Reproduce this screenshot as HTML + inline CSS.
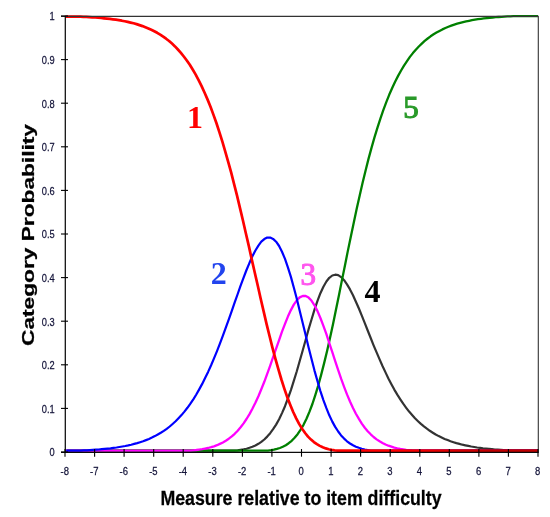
<!DOCTYPE html>
<html><head><meta charset="utf-8"><title>Category Probability</title>
<style>
html,body{margin:0;padding:0;background:#fff;}
svg{display:block;}
.tk{font-family:"Liberation Sans",sans-serif;font-size:11.3px;fill:#14143a;stroke:#14143a;stroke-width:0.25px;}
.lab{font-family:"Liberation Serif",serif;font-weight:bold;font-size:32px;}
.ttl{font-family:"Liberation Sans",sans-serif;font-weight:bold;fill:#000;stroke:#000;stroke-width:0.25px;}
</style></head><body>
<svg width="550" height="517" viewBox="0 0 550 517">
<rect width="550" height="517" fill="#fff"/>
<g fill="none" stroke-width="2.4" stroke-linejoin="round" stroke-linecap="butt">
<path d="M66.2,450.6 L69.2,450.6 L72.1,450.6 L75.1,450.6 L78.0,450.6 L81.0,450.6 L83.9,450.6 L86.9,450.6 L89.8,450.6 L92.8,450.6 L95.8,450.6 L98.7,450.6 L101.7,450.6 L104.6,450.6 L107.6,450.6 L110.5,450.6 L113.5,450.6 L116.5,450.6 L119.4,450.6 L122.4,450.6 L125.3,450.6 L128.3,450.6 L131.2,450.6 L134.2,450.6 L137.2,450.6 L140.1,450.6 L143.1,450.6 L146.0,450.6 L149.0,450.6 L151.9,450.6 L154.9,450.6 L157.8,450.6 L160.8,450.6 L163.8,450.6 L166.7,450.6 L169.7,450.6 L172.6,450.6 L175.6,450.6 L178.5,450.6 L181.5,450.6 L184.4,450.6 L187.4,450.6 L190.4,450.6 L193.3,450.6 L196.3,450.6 L199.2,450.6 L202.2,450.6 L205.1,450.6 L208.1,450.6 L211.1,450.6 L214.0,450.6 L217.0,450.6 L219.9,450.6 L222.9,450.6 L225.8,450.6 L228.8,450.6 L231.8,450.6 L234.7,450.6 L237.7,450.4 L240.6,449.9 L243.6,449.4 L246.5,448.7 L249.5,447.8 L252.4,446.8 L255.4,445.5 L258.4,443.8 L261.3,441.9 L264.3,439.5 L267.2,436.6 L270.2,433.2 L273.1,429.2 L276.1,424.6 L279.1,419.2 L282.0,413.1 L285.0,406.2 L287.9,398.5 L290.9,390.1 L293.8,380.9 L296.8,371.2 L299.7,361.0 L302.7,350.5 L305.7,339.8 L308.6,329.3 L311.6,319.2 L314.5,309.6 L317.5,300.9 L320.4,293.2 L323.4,286.7 L326.4,281.5 L329.3,277.8 L332.3,275.5 L335.2,274.7 L338.2,275.2 L341.1,277.1 L344.1,280.2 L347.0,284.4 L350.0,289.4 L353.0,295.2 L355.9,301.7 L358.9,308.5 L361.8,315.7 L364.8,323.1 L367.7,330.5 L370.7,338.0 L373.6,345.3 L376.6,352.4 L379.6,359.4 L382.5,366.0 L385.5,372.4 L388.4,378.4 L391.4,384.2 L394.3,389.6 L397.3,394.6 L400.3,399.3 L403.2,403.7 L406.2,407.8 L409.1,411.6 L412.1,415.0 L415.0,418.3 L418.0,421.2 L420.9,423.9 L423.9,426.4 L426.9,428.7 L429.8,430.8 L432.8,432.7 L435.7,434.5 L438.7,436.1 L441.6,437.5 L444.6,438.9 L447.6,440.1 L450.5,441.2 L453.5,442.2 L456.4,443.1 L459.4,443.9 L462.3,444.7 L465.3,445.3 L468.3,445.9 L471.2,446.5 L474.2,447.0 L477.1,447.5 L480.1,447.9 L483.0,448.3 L486.0,448.6 L488.9,448.9 L491.9,449.2 L494.9,449.5 L497.8,449.7 L500.8,449.9 L503.7,450.1 L506.7,450.3 L509.6,450.4 L512.6,450.6 L515.6,450.6 L518.5,450.6 L521.5,450.6 L524.4,450.6 L527.4,450.6 L530.3,450.6 L533.3,450.6 L536.2,450.6 L538.0,450.6" stroke="#333333" stroke-width="2.2"/>
<path d="M67.0,450.6 L70.0,450.6 L72.9,450.6 L75.9,450.6 L78.8,450.6 L81.8,450.6 L84.7,450.6 L87.7,450.6 L90.6,450.6 L93.6,450.6 L96.6,450.6 L99.5,450.6 L102.5,450.6 L105.4,450.6 L108.4,450.6 L111.3,450.6 L114.3,450.6 L117.3,450.6 L120.2,450.6 L123.2,450.6 L126.1,450.6 L129.1,450.6 L132.0,450.6 L135.0,450.6 L138.0,450.6 L140.9,450.6 L143.9,450.6 L146.8,450.6 L149.8,450.6 L152.7,450.6 L155.7,450.6 L158.6,450.6 L161.6,450.6 L164.6,450.6 L167.5,450.6 L170.5,450.6 L173.4,450.6 L176.4,450.6 L179.3,450.6 L182.3,450.6 L185.2,450.6 L188.2,450.6 L191.2,450.6 L194.1,450.6 L197.1,450.6 L200.0,450.6 L203.0,450.6 L205.9,450.6 L208.9,450.6 L211.9,450.6 L214.8,450.6 L217.8,450.6 L220.7,450.6 L223.7,450.6 L226.6,450.6 L229.6,450.6 L232.6,450.6 L235.5,450.6 L238.5,450.6 L241.4,450.6 L244.4,450.6 L247.3,450.6 L250.3,450.6 L253.2,450.6 L256.2,450.6 L259.2,450.6 L262.1,450.6 L265.1,450.6 L268.0,450.6 L271.0,450.2 L273.9,449.7 L276.9,448.9 L279.9,448.0 L282.8,446.8 L285.8,445.2 L288.7,443.2 L291.7,440.8 L294.6,437.8 L297.6,434.2 L300.5,429.9 L303.5,424.8 L306.5,418.8 L309.4,411.9 L312.4,404.0 L315.3,395.1 L318.3,385.3 L321.2,374.6 L324.2,362.9 L327.2,350.5 L330.1,337.4 L333.1,323.7 L336.0,309.5 L339.0,295.0 L341.9,280.4 L344.9,265.7 L347.8,251.1 L350.8,236.7 L353.8,222.6 L356.7,208.8 L359.7,195.5 L362.6,182.8 L365.6,170.6 L368.5,158.9 L371.5,147.9 L374.4,137.6 L377.4,127.8 L380.4,118.7 L383.3,110.2 L386.3,102.2 L389.2,94.8 L392.2,88.0 L395.1,81.7 L398.1,75.9 L401.1,70.5 L404.0,65.6 L407.0,61.1 L409.9,56.9 L412.9,53.1 L415.8,49.7 L418.8,46.5 L421.8,43.6 L424.7,40.9 L427.7,38.5 L430.6,36.3 L433.6,34.3 L436.5,32.5 L439.5,30.9 L442.4,29.4 L445.4,28.0 L448.4,26.8 L451.3,25.7 L454.3,24.6 L457.2,23.7 L460.2,22.9 L463.1,22.1 L466.1,21.4 L469.1,20.8 L472.0,20.2 L475.0,19.7 L477.9,19.2 L480.9,18.8 L483.8,18.4 L486.8,18.1 L489.7,17.8 L492.7,17.5 L495.7,17.2 L498.6,17.0 L501.6,16.8 L504.5,16.6 L507.5,16.4 L510.4,16.3 L513.4,16.1 L516.4,16.1 L519.3,16.1 L522.3,16.1 L525.2,16.1 L528.2,16.1 L531.1,16.1 L534.1,16.1 L537.0,16.1 L538.0,16.1" stroke="#008000" stroke-width="2.3"/>
<path d="M66.2,450.6 L69.2,450.6 L72.1,450.6 L75.1,450.6 L78.0,450.6 L81.0,450.6 L83.9,450.6 L86.9,450.6 L89.8,450.6 L92.8,450.6 L95.8,450.6 L98.7,450.6 L101.7,450.6 L104.6,450.6 L107.6,450.6 L110.5,450.6 L113.5,450.6 L116.5,450.6 L119.4,450.6 L122.4,450.6 L125.3,450.6 L128.3,450.6 L131.2,450.6 L134.2,450.6 L137.2,450.6 L140.1,450.6 L143.1,450.6 L146.0,450.6 L149.0,450.6 L151.9,450.6 L154.9,450.6 L157.8,450.6 L160.8,450.6 L163.8,450.6 L166.7,450.6 L169.7,450.6 L172.6,450.6 L175.6,450.6 L178.5,450.6 L181.5,450.6 L184.4,450.6 L187.4,450.6 L190.4,450.6 L193.3,450.3 L196.3,450.0 L199.2,449.6 L202.2,449.2 L205.1,448.6 L208.1,448.0 L211.1,447.2 L214.0,446.3 L217.0,445.2 L219.9,443.9 L222.9,442.5 L225.8,440.7 L228.8,438.7 L231.8,436.4 L234.7,433.8 L237.7,430.8 L240.6,427.3 L243.6,423.4 L246.5,419.0 L249.5,414.1 L252.4,408.7 L255.4,402.7 L258.4,396.2 L261.3,389.2 L264.3,381.8 L267.2,373.9 L270.2,365.6 L273.1,357.2 L276.1,348.6 L279.1,340.1 L282.0,331.7 L285.0,323.8 L287.9,316.6 L290.9,310.1 L293.8,304.6 L296.8,300.3 L299.7,297.4 L302.7,296.0 L305.7,296.0 L308.6,297.6 L311.6,300.8 L314.5,305.3 L317.5,311.1 L320.4,318.0 L323.4,325.8 L326.4,334.2 L329.3,343.1 L332.3,352.1 L335.2,361.2 L338.2,370.1 L341.1,378.7 L344.1,386.8 L347.0,394.4 L350.0,401.5 L353.0,407.9 L355.9,413.7 L358.9,418.9 L361.8,423.6 L364.8,427.7 L367.7,431.2 L370.7,434.3 L373.6,437.0 L376.6,439.4 L379.6,441.3 L382.5,443.0 L385.5,444.5 L388.4,445.7 L391.4,446.7 L394.3,447.6 L397.3,448.3 L400.3,448.9 L403.2,449.4 L406.2,449.9 L409.1,450.2 L412.1,450.5 L415.0,450.6 L418.0,450.6 L420.9,450.6 L423.9,450.6 L426.9,450.6 L429.8,450.6 L432.8,450.6 L435.7,450.6 L438.7,450.6 L441.6,450.6 L444.6,450.6 L447.6,450.6 L450.5,450.6 L453.5,450.6 L456.4,450.6 L459.4,450.6 L462.3,450.6 L465.3,450.6 L468.3,450.6 L471.2,450.6 L474.2,450.6 L477.1,450.6 L480.1,450.6 L483.0,450.6 L486.0,450.6 L488.9,450.6 L491.9,450.6 L494.9,450.6 L497.8,450.6 L500.8,450.6 L503.7,450.6 L506.7,450.6 L509.6,450.6 L512.6,450.6 L515.6,450.6 L518.5,450.6 L521.5,450.6 L524.4,450.6 L527.4,450.6 L530.3,450.6 L533.3,450.6 L536.2,450.6 L538.0,450.6" stroke="#ff00ff" stroke-width="2.3"/>
<path d="M66.2,450.6 L69.2,450.6 L72.1,450.6 L75.1,450.6 L78.0,450.6 L81.0,450.6 L83.9,450.4 L86.9,450.3 L89.8,450.1 L92.8,449.9 L95.8,449.7 L98.7,449.5 L101.7,449.2 L104.6,448.9 L107.6,448.6 L110.5,448.3 L113.5,447.9 L116.5,447.5 L119.4,447.0 L122.4,446.5 L125.3,446.0 L128.3,445.4 L131.2,444.7 L134.2,443.9 L137.2,443.1 L140.1,442.2 L143.1,441.2 L146.0,440.1 L149.0,438.9 L151.9,437.6 L154.9,436.1 L157.8,434.5 L160.8,432.8 L163.8,430.9 L166.7,428.8 L169.7,426.5 L172.6,424.0 L175.6,421.3 L178.5,418.3 L181.5,415.1 L184.4,411.6 L187.4,407.8 L190.4,403.7 L193.3,399.3 L196.3,394.5 L199.2,389.4 L202.2,383.9 L205.1,378.1 L208.1,371.9 L211.1,365.3 L214.0,358.4 L217.0,351.1 L219.9,343.6 L222.9,335.7 L225.8,327.6 L228.8,319.3 L231.8,310.9 L234.7,302.4 L237.7,294.0 L240.6,285.7 L243.6,277.7 L246.5,270.0 L249.5,262.8 L252.4,256.3 L255.4,250.5 L258.4,245.6 L261.3,241.7 L264.3,239.1 L267.2,237.6 L270.2,237.6 L273.1,238.9 L276.1,241.7 L279.1,246.0 L282.0,251.8 L285.0,258.9 L287.9,267.4 L290.9,276.9 L293.8,287.5 L296.8,298.8 L299.7,310.7 L302.7,322.9 L305.7,335.3 L308.6,347.5 L311.6,359.3 L314.5,370.6 L317.5,381.3 L320.4,391.1 L323.4,400.1 L326.4,408.2 L329.3,415.3 L332.3,421.6 L335.2,426.9 L338.2,431.5 L341.1,435.4 L344.1,438.6 L347.0,441.3 L350.0,443.5 L353.0,445.3 L355.9,446.7 L358.9,447.8 L361.8,448.7 L364.8,449.5 L367.7,450.0 L370.7,450.5 L373.6,450.6 L376.6,450.6 L379.6,450.6 L382.5,450.6 L385.5,450.6 L388.4,450.6 L391.4,450.6 L394.3,450.6 L397.3,450.6 L400.3,450.6 L403.2,450.6 L406.2,450.6 L409.1,450.6 L412.1,450.6 L415.0,450.6 L418.0,450.6 L420.9,450.6 L423.9,450.6 L426.9,450.6 L429.8,450.6 L432.8,450.6 L435.7,450.6 L438.7,450.6 L441.6,450.6 L444.6,450.6 L447.6,450.6 L450.5,450.6 L453.5,450.6 L456.4,450.6 L459.4,450.6 L462.3,450.6 L465.3,450.6 L468.3,450.6 L471.2,450.6 L474.2,450.6 L477.1,450.6 L480.1,450.6 L483.0,450.6 L486.0,450.6 L488.9,450.6 L491.9,450.6 L494.9,450.6 L497.8,450.6 L500.8,450.6 L503.7,450.6 L506.7,450.6 L509.6,450.6 L512.6,450.6 L515.6,450.6 L518.5,450.6 L521.5,450.6 L524.4,450.6 L527.4,450.6 L530.3,450.6 L533.3,450.6 L536.2,450.6 L538.0,450.6" stroke="#0000ff" stroke-width="2.2"/>
<path d="M65.6,16.6 L68.6,16.6 L71.5,16.6 L74.5,16.6 L77.4,16.6 L80.4,16.6 L83.3,16.8 L86.3,16.9 L89.2,17.1 L92.2,17.3 L95.2,17.5 L98.1,17.7 L101.1,18.0 L104.0,18.3 L107.0,18.6 L109.9,18.9 L112.9,19.3 L115.9,19.7 L118.8,20.2 L121.8,20.7 L124.7,21.3 L127.7,21.9 L130.6,22.6 L133.6,23.3 L136.6,24.1 L139.5,25.1 L142.5,26.1 L145.4,27.2 L148.4,28.4 L151.3,29.7 L154.3,31.2 L157.2,32.8 L160.2,34.6 L163.2,36.6 L166.1,38.7 L169.1,41.0 L172.0,43.6 L175.0,46.4 L177.9,49.5 L180.9,52.9 L183.8,56.5 L186.8,60.5 L189.8,64.8 L192.7,69.5 L195.7,74.6 L198.6,80.1 L201.6,86.1 L204.5,92.5 L207.5,99.4 L210.5,106.7 L213.4,114.6 L216.4,123.0 L219.3,131.9 L222.3,141.4 L225.2,151.3 L228.2,161.8 L231.2,172.7 L234.1,184.1 L237.1,195.9 L240.0,208.1 L243.0,220.7 L245.9,233.5 L248.9,246.4 L251.8,259.6 L254.8,272.7 L257.8,285.8 L260.7,298.8 L263.7,311.6 L266.6,324.1 L269.6,336.3 L272.5,347.9 L275.5,359.1 L278.5,369.6 L281.4,379.5 L284.4,388.8 L287.3,397.3 L290.3,405.0 L293.2,412.0 L296.2,418.3 L299.1,423.9 L302.1,428.7 L305.1,433.0 L308.0,436.6 L311.0,439.6 L313.9,442.1 L316.9,444.2 L319.8,445.9 L322.8,447.3 L325.8,448.4 L328.7,449.2 L331.7,449.9 L334.6,450.4 L337.6,450.6 L340.5,450.6 L343.5,450.6 L346.4,450.6 L349.4,450.6 L352.4,450.6 L355.3,450.6 L358.3,450.6 L361.2,450.6 L364.2,450.6 L367.1,450.6 L370.1,450.6 L373.1,450.6 L376.0,450.6 L379.0,450.6 L381.9,450.6 L384.9,450.6 L387.8,450.6 L390.8,450.6 L393.7,450.6 L396.7,450.6 L399.7,450.6 L402.6,450.6 L405.6,450.6 L408.5,450.6 L411.5,450.6 L414.4,450.6 L417.4,450.6 L420.4,450.6 L423.3,450.6 L426.3,450.6 L429.2,450.6 L432.2,450.6 L435.1,450.6 L438.1,450.6 L441.0,450.6 L444.0,450.6 L447.0,450.6 L449.9,450.6 L452.9,450.6 L455.8,450.6 L458.8,450.6 L461.7,450.6 L464.7,450.6 L467.7,450.6 L470.6,450.6 L473.6,450.6 L476.5,450.6 L479.5,450.6 L482.4,450.6 L485.4,450.6 L488.3,450.6 L491.3,450.6 L494.3,450.6 L497.2,450.6 L500.2,450.6 L503.1,450.6 L506.1,450.6 L509.0,450.6 L512.0,450.6 L515.0,450.6 L517.9,450.6 L520.9,450.6 L523.8,450.6 L526.8,450.6 L529.7,450.6 L532.7,450.6 L535.6,450.6 L538.0,450.6" stroke="#ff0000" stroke-width="2.7"/>
</g>
<defs><linearGradient id="dk" gradientUnits="userSpaceOnUse" x1="400" y1="0" x2="490" y2="0"><stop offset="0" stop-color="#000" stop-opacity="0"/><stop offset="1" stop-color="#000" stop-opacity="0.25"/></linearGradient></defs>
<rect x="400" y="449.2" width="138" height="2.9" fill="url(#dk)"/>
<g fill="none" stroke="#333" stroke-width="1.1"><path d="M61,16.4 H538.3 V452"/></g>
<g stroke="#0a0a0a" stroke-width="1.25" fill="none"><path d="M65.3,15.8 V453 M61,452.3 H538.8"/></g>
<g stroke="#000" stroke-width="1.1"><line x1="65.0" y1="449" x2="65.0" y2="456.7"/><line x1="94.6" y1="449" x2="94.6" y2="456.7"/><line x1="124.1" y1="449" x2="124.1" y2="456.7"/><line x1="153.7" y1="449" x2="153.7" y2="456.7"/><line x1="183.2" y1="449" x2="183.2" y2="456.7"/><line x1="212.8" y1="449" x2="212.8" y2="456.7"/><line x1="242.4" y1="449" x2="242.4" y2="456.7"/><line x1="271.9" y1="449" x2="271.9" y2="456.7"/><line x1="301.5" y1="449" x2="301.5" y2="456.7"/><line x1="331.1" y1="449" x2="331.1" y2="456.7"/><line x1="360.6" y1="449" x2="360.6" y2="456.7"/><line x1="390.2" y1="449" x2="390.2" y2="456.7"/><line x1="419.8" y1="449" x2="419.8" y2="456.7"/><line x1="449.3" y1="449" x2="449.3" y2="456.7"/><line x1="478.9" y1="449" x2="478.9" y2="456.7"/><line x1="508.4" y1="449" x2="508.4" y2="456.7"/><line x1="538.0" y1="449" x2="538.0" y2="456.7"/><line x1="61" y1="452.0" x2="68" y2="452.0"/><line x1="61" y1="408.4" x2="68" y2="408.4"/><line x1="61" y1="364.8" x2="68" y2="364.8"/><line x1="61" y1="321.2" x2="68" y2="321.2"/><line x1="61" y1="277.6" x2="68" y2="277.6"/><line x1="61" y1="234.0" x2="68" y2="234.0"/><line x1="61" y1="190.4" x2="68" y2="190.4"/><line x1="61" y1="146.8" x2="68" y2="146.8"/><line x1="61" y1="103.2" x2="68" y2="103.2"/><line x1="61" y1="59.6" x2="68" y2="59.6"/><line x1="61" y1="16.0" x2="68" y2="16.0"/></g>
<g class="tk" text-anchor="middle"><text transform="translate(64.7,475) scale(0.84,1)">-8</text><text transform="translate(94.3,475) scale(0.84,1)">-7</text><text transform="translate(123.8,475) scale(0.84,1)">-6</text><text transform="translate(153.4,475) scale(0.84,1)">-5</text><text transform="translate(182.9,475) scale(0.84,1)">-4</text><text transform="translate(212.5,475) scale(0.84,1)">-3</text><text transform="translate(242.1,475) scale(0.84,1)">-2</text><text transform="translate(271.6,475) scale(0.84,1)">-1</text><text transform="translate(301.2,475) scale(0.84,1)">0</text><text transform="translate(330.8,475) scale(0.84,1)">1</text><text transform="translate(360.3,475) scale(0.84,1)">2</text><text transform="translate(389.9,475) scale(0.84,1)">3</text><text transform="translate(419.4,475) scale(0.84,1)">4</text><text transform="translate(449.0,475) scale(0.84,1)">5</text><text transform="translate(478.6,475) scale(0.84,1)">6</text><text transform="translate(508.1,475) scale(0.84,1)">7</text><text transform="translate(537.7,475) scale(0.84,1)">8</text></g>
<g class="tk" text-anchor="end"><text transform="translate(54.7,456.3) scale(0.82,1)">0</text><text transform="translate(54.7,412.7) scale(0.82,1)">0.1</text><text transform="translate(54.7,369.1) scale(0.82,1)">0.2</text><text transform="translate(54.7,325.5) scale(0.82,1)">0.3</text><text transform="translate(54.7,281.9) scale(0.82,1)">0.4</text><text transform="translate(54.7,238.3) scale(0.82,1)">0.5</text><text transform="translate(54.7,194.7) scale(0.82,1)">0.6</text><text transform="translate(54.7,151.1) scale(0.82,1)">0.7</text><text transform="translate(54.7,107.5) scale(0.82,1)">0.8</text><text transform="translate(54.7,63.9) scale(0.82,1)">0.9</text><text transform="translate(54.7,20.3) scale(0.82,1)">1</text></g>
<text class="lab" x="195" y="128.3" text-anchor="middle" fill="#ff0000">1</text>
<text class="lab" x="218.8" y="284.4" text-anchor="middle" fill="#2244ee">2</text>
<text class="lab" x="308.3" y="284.7" text-anchor="middle" fill="#ff55ee" stroke="#ff55ee" stroke-width="1.1" style="font-weight:normal;font-size:31px">3</text>
<text class="lab" x="372.5" y="301.5" text-anchor="middle" fill="#000">4</text>
<text class="lab" x="411" y="118.3" text-anchor="middle" fill="#2a9a2a" stroke="#2a9a2a" stroke-width="1.1" style="font-weight:normal;font-size:31px">5</text>
<text class="ttl" font-size="16" text-anchor="middle" transform="translate(34.4,235) rotate(-90) scale(1.42,1)">Category Probability</text>
<text class="ttl" font-size="20" text-anchor="middle" transform="translate(301,505) scale(0.888,1)">Measure relative to item difficulty</text>
</svg>
</body></html>
